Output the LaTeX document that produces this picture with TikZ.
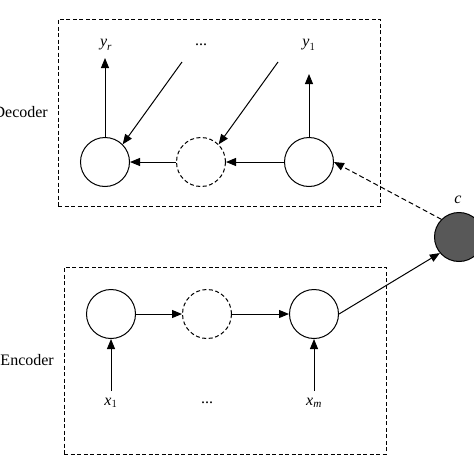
\documentclass[tikz,border=0pt]{standalone}
\usepackage{amsmath}
\usepackage{fontspec}
\setmainfont{Liberation Serif}
\usetikzlibrary{arrows.meta}
\definecolor{cfill}{RGB}{88,88,88}
\newcommand{\vi}[1]{\textit{#1}}
\begin{document}
\begin{tikzpicture}[x=1pt,y=-1pt,
  every node/.style={font=\fontsize{16}{19}\selectfont},
  cell/.style={circle,draw,line width=1pt,minimum size=49pt,inner sep=0pt},
  dcell/.style={cell,dash pattern=on 4pt off 2.5pt},
  frame/.style={draw,line width=1pt,dash pattern=on 4pt off 2.5pt},
  arr/.style={line width=1pt,-{Triangle[length=10pt,width=8pt]}},
  lbl/.style={inner sep=0pt}]
\useasboundingbox (0,0) rectangle (474,474);
% boxes
\node[frame,minimum width=322pt,minimum height=187pt,inner sep=0pt] (dbox) at (219,112.5) {};
\node[frame,minimum width=322pt,minimum height=187pt,inner sep=0pt] (ebox) at (225,360.5) {};
\node[anchor=east,inner sep=0pt] (dtext) at (48,112) {Decoder};
\node[anchor=east,inner sep=0pt] (etext) at (54,360) {Encoder};
% decoder
\node[cell] (d1) at (105,162) {};
\node[dcell] (d2) at (201,162) {};
\node[cell] (d3) at (309,162) {};
\node[lbl] (yr) at (106,45) {$\vi{y}_{\vi{r}}$};
\node[lbl] (ydots) at (201,45) {...};
\node[lbl] (y1) at (309,45) {$\vi{y}_{1}$};
\coordinate (yrtip) at (105,58);
\coordinate (y1tip) at (309,74);
\coordinate (s1) at (182,62);
\coordinate (s2) at (278,62);
\draw[arr] (d1.north) -- (yrtip);
\draw[arr] (d3.north) -- (y1tip);
\draw[arr] (s1) -- (d1.north east);
\draw[arr] (s2) -- (d2.north east);
\draw[arr] (d2.west) -- (d1.east);
\draw[arr] (d3.west) -- (d2.east);
% encoder
\node[cell] (e1) at (111,314) {};
\node[dcell] (e2) at (207,314) {};
\node[cell] (e3) at (314,314) {};
\node[lbl] (x1) at (111,403) {$\vi{x}_{1}$};
\node[lbl] (xdots) at (207,403) {...};
\node[lbl] (xm) at (314,403) {$\vi{x}_{\vi{m}}$};
\coordinate (x1s) at (111,391);
\coordinate (xms) at (314,391);
\draw[arr] (x1s) -- (e1.south);
\draw[arr] (xms) -- (e3.south);
\draw[arr] (e1.east) -- (e2.west);
\draw[arr] (e2.east) -- (e3.west);
% context
\node[cell,fill=cfill] (c) at (459,237) {};
\node[lbl] (clbl) at (458,200) {\vi{c}};
\draw[arr] (e3.east) -- (c.220);
\draw[arr,dash pattern=on 5pt off 3pt] (c.135) -- (d3.east);
\end{tikzpicture}
\end{document}
